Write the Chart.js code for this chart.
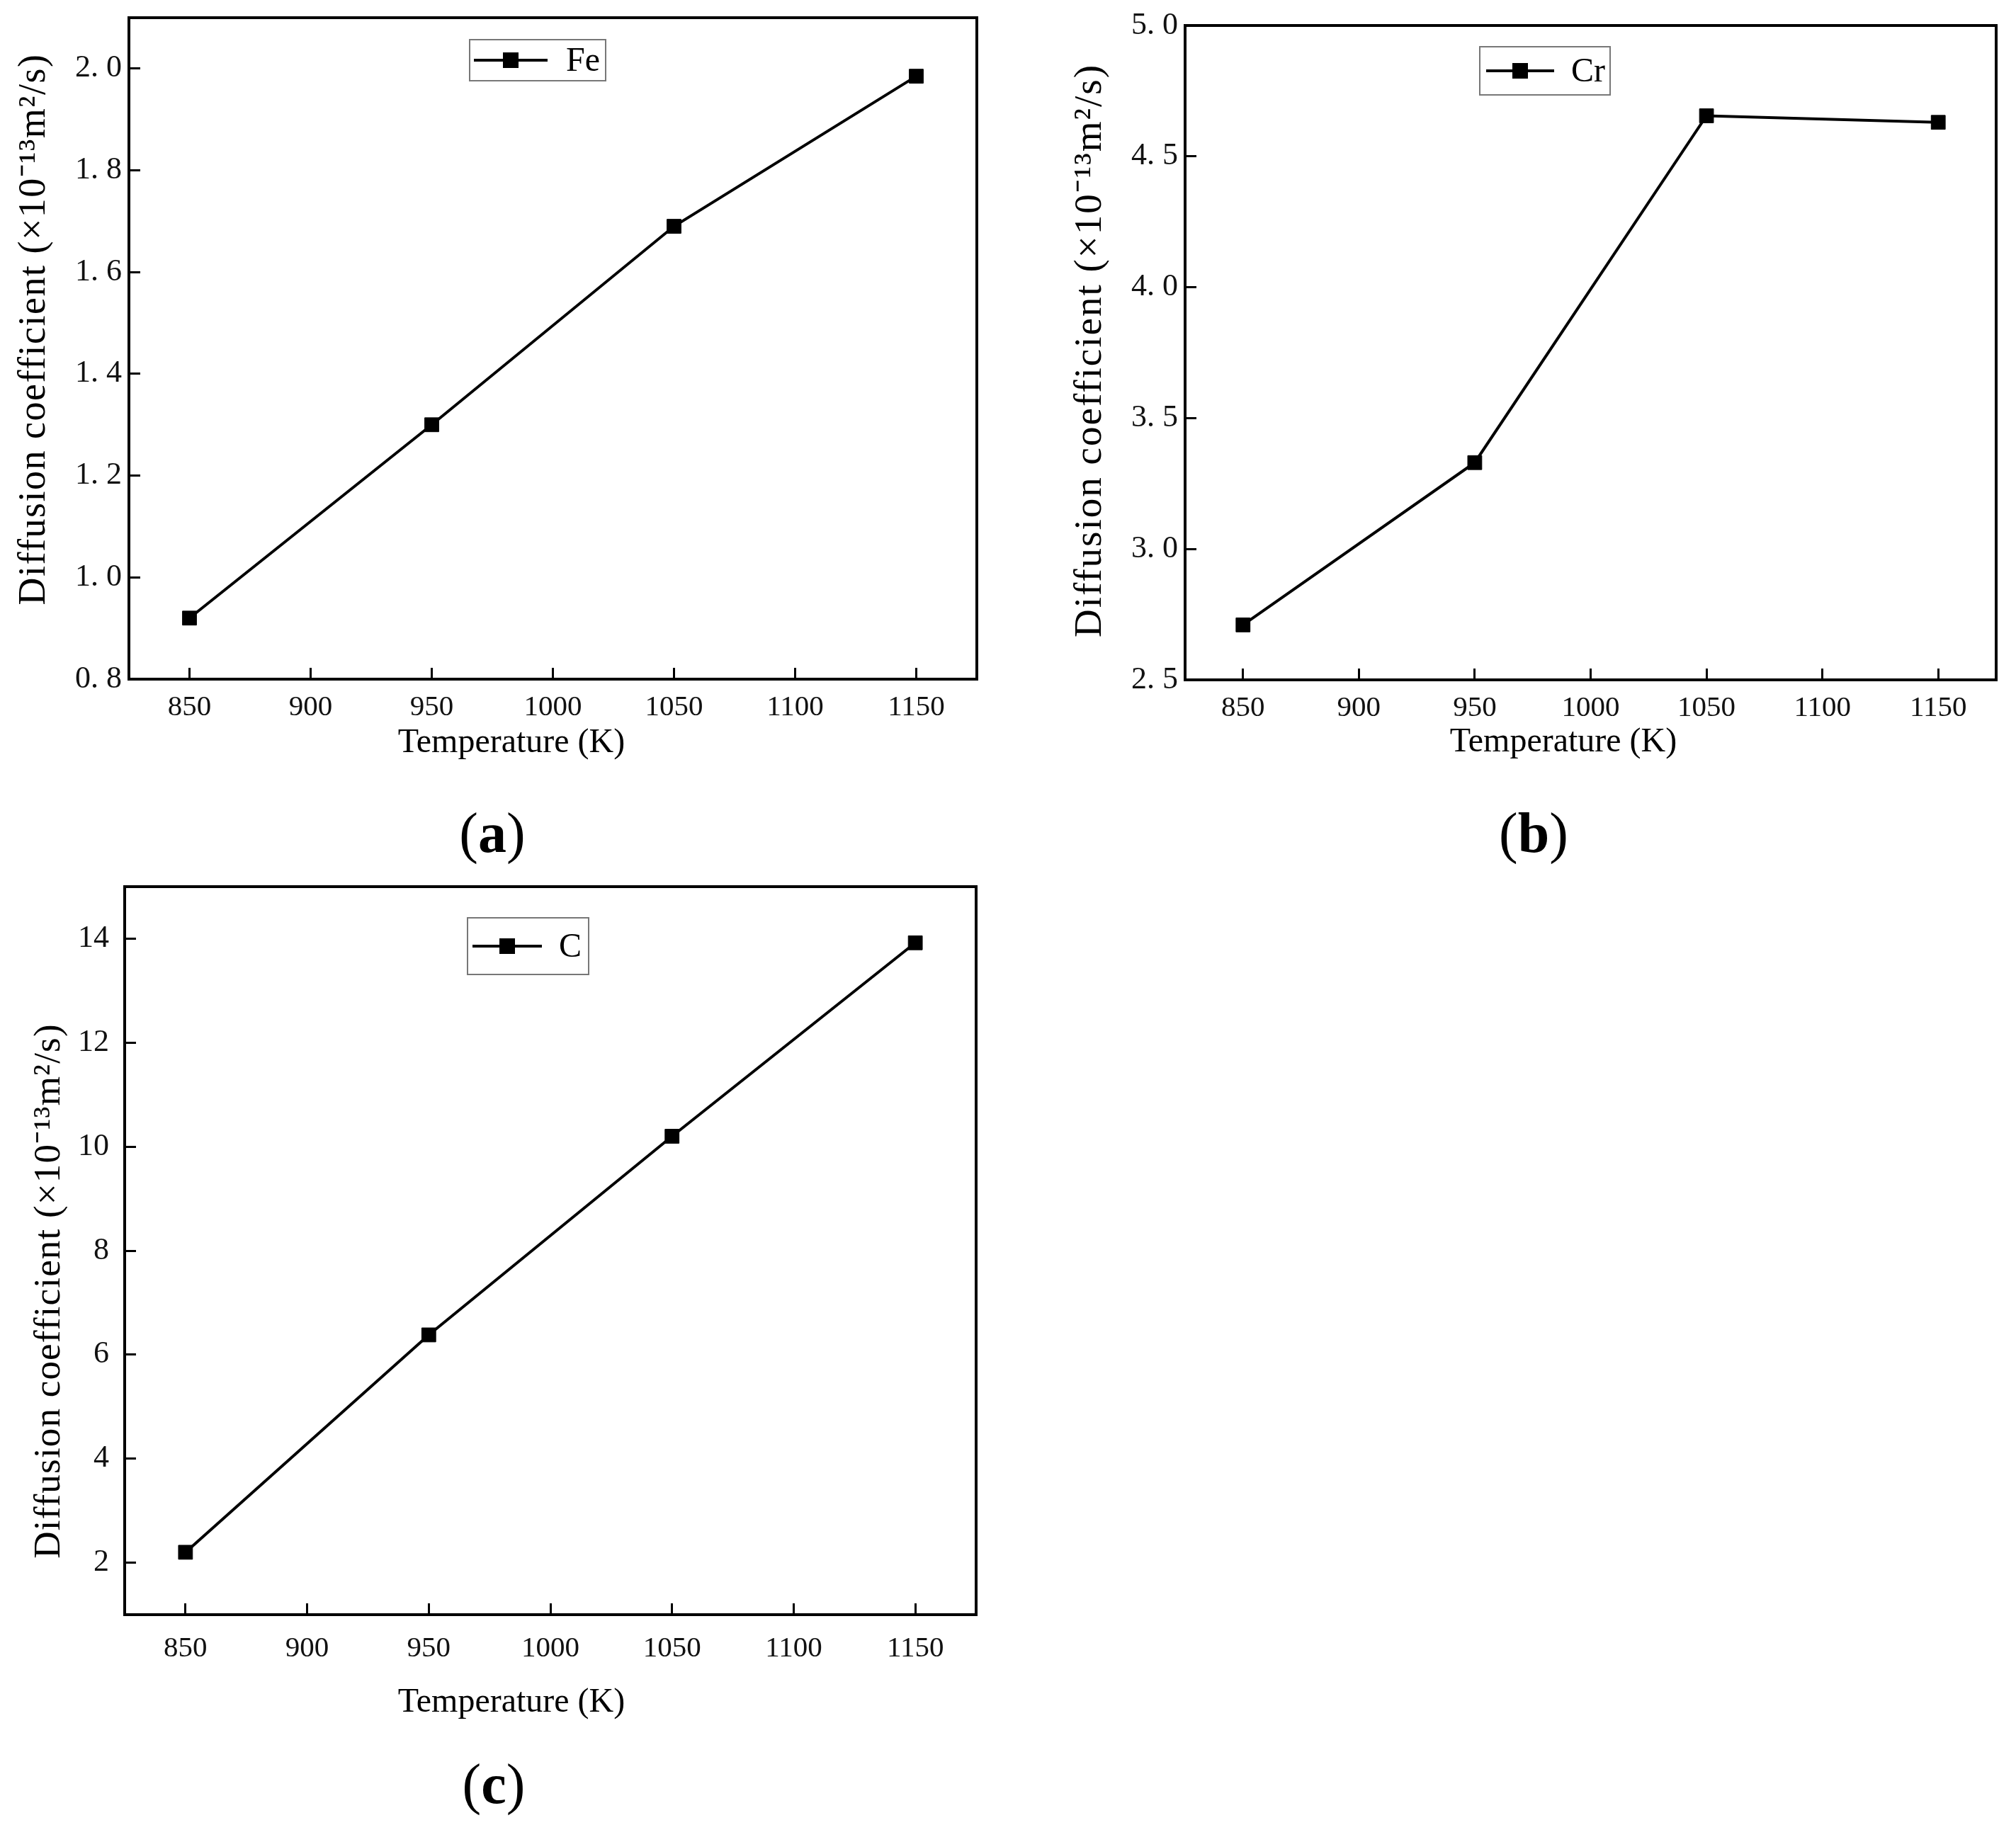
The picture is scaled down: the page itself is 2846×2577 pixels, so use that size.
<!DOCTYPE html>
<html>
<head>
<meta charset="utf-8">
<script src="https://cdn.jsdelivr.net/npm/chart.js@4.4.0/dist/chart.umd.min.js"></script>
<style>
    html, body { margin: 0; padding: 0; background: #fff; }
    body {
        width: 2846px;
        height: 2577px;
        position: relative;
        overflow: hidden;
        font-family: "Liberation Serif", "Times New Roman", serif;
    }
    .panel { position: absolute; }
    .tag {
        position: absolute;
        font-size: 80px;
        color: #000;
        white-space: nowrap;
        transform: translate(-50%, -50%);
    }
    .tag b { font-weight: bold; }
</style>
</head>
<body>

<div class="panel" style="left:0px;top:0px;width:1420px;height:1110px"><canvas id="chartFe"></canvas></div>
<div class="panel" style="left:1460px;top:0px;width:1386px;height:1110px"><canvas id="chartCr"></canvas></div>
<div class="panel" style="left:0px;top:1200px;width:1420px;height:1250px"><canvas id="chartC"></canvas></div>

<div class="tag" style="left:695px;top:1176px">(<b>a</b>)</div>
<div class="tag" style="left:2165px;top:1176px">(<b>b</b>)</div>
<div class="tag" style="left:697px;top:2519px">(<b>c</b>)</div>

<script>
// ========== DATA ==========
const temperatures = [850, 950, 1050, 1150];
const feValues = [0.92, 1.30, 1.69, 1.985];
const crValues = [2.71, 3.33, 4.655, 4.63];
const cValues = [2.2, 6.38, 10.2, 13.92];

const xTickValues = [850, 900, 950, 1000, 1050, 1100, 1150];
const feTickValues = [0.8, 1.0, 1.2, 1.4, 1.6, 1.8, 2.0];
const crTickValues = [2.5, 3.0, 3.5, 4.0, 4.5, 5.0];
const cTickValues = [2, 4, 6, 8, 10, 12, 14];

const xTitle = 'Temperature (K)';
const yTitle = 'Diffusion coefficient (×10⁻¹³m²/s)';

// ========== STYLE ==========
const serif = '"Liberation Serif", "Times New Roman", serif';
const ink = '#000';

// ========== PLUGINS ==========
// box round the plot area
const framePlugin = {
    id: 'frame',
    afterDraw(chart) {
        const { ctx, chartArea: a } = chart;
        ctx.save();
        ctx.strokeStyle = ink;
        ctx.lineWidth = 4;
        ctx.strokeRect(a.left, a.top, a.right - a.left, a.bottom - a.top);
        ctx.restore();
    }
};

// legend inside the plot: line + square + label, with a thin box
const boxLegendPlugin = {
    id: 'boxLegend',
    afterDraw(chart, args, opts) {
        const ctx = chart.ctx;
        const ds = chart.data.datasets[0];
        const cy = opts.y + opts.h / 2;
        const x0 = opts.x + opts.lineStart;
        const x1 = x0 + opts.lineLen;
        ctx.save();
        ctx.fillStyle = '#fff';
        ctx.fillRect(opts.x, opts.y, opts.w, opts.h);
        ctx.strokeStyle = '#777';
        ctx.lineWidth = 2;
        ctx.strokeRect(opts.x, opts.y, opts.w, opts.h);

        ctx.strokeStyle = ink;
        ctx.lineWidth = 4;
        ctx.beginPath();
        ctx.moveTo(x0, cy);
        ctx.lineTo(x1, cy);
        ctx.stroke();

        const s = 22;
        ctx.fillStyle = ink;
        ctx.fillRect((x0 + x1) / 2 - s / 2, cy - s / 2, s, s);

        ctx.font = '48px ' + serif;
        ctx.textAlign = 'left';
        ctx.textBaseline = 'middle';
        ctx.fillText(ds.label, x1 + opts.textGap, cy + 2);
        ctx.restore();
    }
};

// axis titles placed where the figure has them
const axisTitlesPlugin = {
    id: 'axisTitles',
    afterDraw(chart, args, opts) {
        const ctx = chart.ctx;
        ctx.save();
        ctx.fillStyle = ink;
        ctx.textAlign = 'center';
        ctx.textBaseline = 'middle';

        ctx.font = '48px ' + serif;
        ctx.fillText(xTitle, opts.x.cx, opts.x.cy);

        ctx.translate(opts.y.cx, opts.y.cy);
        ctx.rotate(-Math.PI / 2);
        ctx.font = opts.y.size + 'px ' + serif;
        ctx.letterSpacing = opts.y.spacing + 'px';
        ctx.fillText(yTitle, 0, 0);
        ctx.restore();
    }
};

// ========== CHART FACTORY ==========
function makeChart(canvasId, cfg) {
    const grid = {
        drawOnChartArea: false,
        drawTicks: true,
        tickLength: -16,
        color: ink,
        lineWidth: 3
    };
    const border = { display: true, color: ink, width: 4 };

    return new Chart(document.getElementById(canvasId), {
        type: 'line',
        data: {
            datasets: [{
                label: cfg.label,
                data: temperatures.map((t, i) => ({ x: t, y: cfg.values[i] })),
                borderColor: ink,
                backgroundColor: ink,
                borderWidth: 4,
                tension: 0,
                pointStyle: 'rect',
                pointRadius: 14,
                pointBorderWidth: 1,
                pointBackgroundColor: ink,
                pointBorderColor: ink,
                clip: false
            }]
        },
        options: {
            responsive: true,
            maintainAspectRatio: false,
            animation: false,
            layout: { padding: cfg.padding },
            plugins: {
                legend: { display: false },
                tooltip: { enabled: false },
                boxLegend: cfg.legend,
                axisTitles: cfg.titles
            },
            scales: {
                x: {
                    type: 'linear',
                    min: 825,
                    max: 1175,
                    afterBuildTicks: s => { s.ticks = xTickValues.map(v => ({ value: v })); },
                    afterFit: s => {
                        s.height = cfg.xHeight;
                        s.paddingLeft = 0;
                        s.paddingRight = 0;
                    },
                    ticks: {
                        font: { family: serif, size: 41 },
                        color: '#111',
                        padding: cfg.xPad,
                        autoSkip: false,
                        maxRotation: 0,
                        callback: v => String(v)
                    },
                    grid: grid,
                    border: border
                },
                y: {
                    type: 'linear',
                    min: cfg.yMin,
                    max: cfg.yMax,
                    afterBuildTicks: s => { s.ticks = cfg.yTicks.map(v => ({ value: v })); },
                    afterFit: s => {
                        s.width = cfg.yWidth;
                        s.paddingTop = 0;
                        s.paddingBottom = 0;
                    },
                    ticks: {
                        font: { family: serif, size: 44 },
                        color: '#111',
                        padding: cfg.yPad,
                        autoSkip: false,
                        callback: cfg.fmt
                    },
                    grid: grid,
                    border: border
                }
            }
        },
        plugins: [framePlugin, boxLegendPlugin, axisTitlesPlugin]
    });
}

const oneDecimal = v => v.toFixed(1).replace('.', '. ');

// ========== (a) Fe ==========
makeChart('chartFe', {
    label: 'Fe',
    values: feValues,
    yMin: 0.8, yMax: 2.1, yTicks: feTickValues, fmt: oneDecimal,
    padding: { top: 25, right: 41, left: 0, bottom: 0 },
    yWidth: 182, xHeight: 151, xPad: 32, yPad: 26,
    legend: { x: 663, y: 56, w: 192, h: 58, lineStart: 6, lineLen: 104, textGap: 26 },
    titles: { x: { cx: 722, cy: 1049 }, y: { cx: 49, cy: 465, size: 54, spacing: 1.5 } }
});

// ========== (b) Cr ==========
makeChart('chartCr', {
    label: 'Cr',
    values: crValues,
    yMin: 2.5, yMax: 5.0, yTicks: crTickValues, fmt: oneDecimal,
    padding: { top: 36, right: 28, left: 0, bottom: 0 },
    yWidth: 213, xHeight: 150, xPad: 32, yPad: 26,
    legend: { x: 629, y: 66, w: 184, h: 68, lineStart: 9, lineLen: 96, textGap: 24 },
    titles: { x: { cx: 747, cy: 1048 }, y: { cx: 80, cy: 495, size: 55, spacing: 2 } }
});

// ========== (c) C ==========
makeChart('chartC', {
    label: 'C',
    values: cValues,
    yMin: 1, yMax: 15, yTicks: cTickValues, fmt: v => String(v),
    padding: { top: 52, right: 42, left: 0, bottom: 0 },
    yWidth: 176, xHeight: 170, xPad: 40, yPad: 38,
    legend: { x: 660, y: 96, w: 171, h: 80, lineStart: 7, lineLen: 98, textGap: 24 },
    titles: { x: { cx: 722, cy: 1204 }, y: { cx: 70, cy: 623, size: 53, spacing: 1.2 } }
});
</script>
</body>
</html>
